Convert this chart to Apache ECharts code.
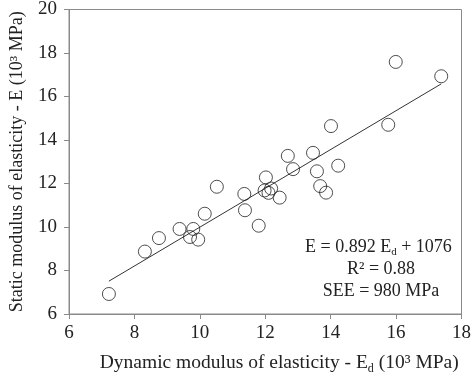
<!DOCTYPE html>
<html><head><meta charset="utf-8">
<script src="https://cdn.jsdelivr.net/npm/echarts@6/dist/echarts.min.js"></script>
<style>html,body{margin:0;padding:0;background:#fff}#c{width:474px;height:380px}</style>
</head><body><div id="c"></div>
<script>
var edValues = [7.22, 8.32, 8.75, 9.38, 9.80, 9.70, 9.95, 10.15, 10.52, 11.36, 11.38, 11.80, 12.02, 11.98, 12.18, 12.10, 12.44, 12.69, 12.85, 13.46, 13.58, 14.23, 13.68, 13.86, 14.01, 15.76, 15.99, 17.38];
var eValues  = [6.92, 8.87, 9.49, 9.91, 9.91, 9.54, 9.42, 10.61, 11.85, 11.52, 10.77, 10.06, 12.28, 11.68, 11.77, 11.57, 11.35, 13.27, 12.66, 13.41, 12.56, 12.82, 11.88, 11.58, 14.64, 14.70, 17.59, 16.93];
var fitX = [7.22, 17.38];
var fitY = [7.51, 16.58];
var xTicks = [6, 8, 10, 12, 14, 16, 18];
var yTicks = [6, 8, 10, 12, 14, 16, 18, 20];

var FONT = '"Liberation Serif", "Times New Roman", serif';
var chart = echarts.init(document.getElementById('c'), null, {renderer: 'canvas'});
var pts = edValues.map(function (x, i) { return [x, eValues[i]]; });
var line = fitX.map(function (x, i) { return [x, fitY[i]]; });
var axisCol = '#8a8a8a';
chart.setOption({
  animation: false,
  grid: {left: 58, right: 12, top: 8, bottom: 56, show: true, borderColor: axisCol, borderWidth: 1},
  xAxis: {
    type: 'value', min: xTicks[0], max: xTicks[xTicks.length - 1], interval: 2,
    axisLine: {lineStyle: {color: axisCol}}, axisTick: {show: true, length: 5, inside: false, lineStyle: {color: axisCol}},
    splitLine: {show: false},
    axisLabel: {color: '#222', fontFamily: FONT, fontSize: 19, margin: 10},
    name: '{t|Dynamic modulus of elasticity - E}{s|d}{t| (10³ MPa)}',
    nameLocation: 'middle', nameGap: 37,
    nameTextStyle: {padding: [0, 0, 0, 28], rich: {t: {fontFamily: FONT, fontSize: 19.5, color: '#222'}, s: {fontFamily: FONT, fontSize: 12, color: '#222', padding: [12, 0, 0, 0]}}}
  },
  yAxis: {
    type: 'value', min: yTicks[0], max: yTicks[yTicks.length - 1], interval: 2,
    axisLine: {lineStyle: {color: axisCol}}, axisTick: {show: true, length: 5, lineStyle: {color: axisCol}},
    splitLine: {show: false},
    axisLabel: {color: '#222', fontFamily: FONT, fontSize: 19, margin: 12},
    name: 'Static modulus of elasticity - E (10³ MPa)',
    nameLocation: 'middle', nameGap: 43,
    nameTextStyle: {fontFamily: FONT, fontSize: 18, color: '#222'}
  },
  series: [
    {type: 'line', data: line, symbol: 'none', lineStyle: {color: '#333', width: 1}, z: 2},
    {type: 'scatter', data: pts, symbol: 'circle', symbolSize: 13,
     itemStyle: {color: 'rgba(0,0,0,0)', borderColor: '#222', borderWidth: 1}, z: 3}
  ],
  graphic: [{
    type: 'text', left: 305, top: 237,
    style: {
      text: '{t|E = 0.892 E}{s|d}{t| + 1076}\n{c|R² = 0.88}\n{c|SEE = 980 MPa}',
      align: 'center',
      rich: {
        t: {fontFamily: FONT, fontSize: 18, fill: '#222', lineHeight: 22},
        s: {fontFamily: FONT, fontSize: 11, fill: '#222', lineHeight: 22, padding: [10, 0, 0, 0]},
        c: {fontFamily: FONT, fontSize: 18, fill: '#222', lineHeight: 22, width: 152, align: 'center'}
      }
    }
  }]
});
</script></body></html>
